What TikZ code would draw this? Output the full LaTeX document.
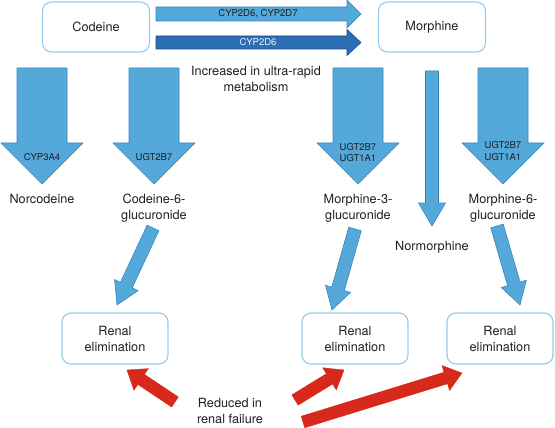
\documentclass[tikz,border=0pt]{standalone}
\usepackage{fontspec}
\setmainfont{TeX Gyre Heros}
\usetikzlibrary{calc}

\definecolor{flowblue}{HTML}{55A8DA}
\definecolor{flowedge}{HTML}{3A86BF}
\definecolor{fastblue}{HTML}{2C6EB5}
\definecolor{fastedge}{HTML}{1E4A85}
\definecolor{boxedge}{HTML}{93CBEA}
\definecolor{failred}{HTML}{D7281C}

\newcommand{\mainsize}{\fontsize{12.7}{16}\selectfont}
\newcommand{\enzsize}{\fontsize{9.5}{11.5}\selectfont}

% #2 tail, #3 tip, #4 half shaft, #5 half head, #6 head length
\newcommand{\blockarrow}[6][]{%
  \coordinate (bahead) at ($(#3)!#6!(#2)$);
  \filldraw[#1] ($(#2)!#4!90:(#3)$) -- ($(bahead)!#4!90:(#3)$) -- ($(bahead)!#5!90:(#3)$) -- (#3)
    -- ($(bahead)!#5!-90:(#3)$) -- ($(bahead)!#4!-90:(#3)$) -- ($(#2)!#4!-90:(#3)$) -- cycle;
}

\tikzset{
  flow/.style={fill=flowblue, draw=flowedge, line width=0.6pt},
  fastflow/.style={fill=fastblue, draw=fastedge, line width=0.6pt},
  failflow/.style={fill=failred, draw=failred, line width=0.4pt},
  drug/.style={draw=boxedge, line width=1.1pt, rounded corners=9pt, minimum width=107pt, minimum height=50pt, align=center},
  enz/.style={font=\enzsize, align=center, inner sep=0pt},
  metab/.style={anchor=north, align=center, inner sep=1pt}
}

\begin{document}
\begin{tikzpicture}[x=1pt, y=-1pt, every node/.style={font=\mainsize, text=black!88}]
	\useasboundingbox (0,0) rectangle (555,428);

	\node[drug] (codeine) at (96,27) {Codeine};
	\node[drug] (morphine) at (432,27) {Morphine};

	\coordinate (slowa) at (156,14); \coordinate (slowb) at (361,14);
	\coordinate (fasta) at (156,42.5); \coordinate (fastb) at (361,42.5);
	\blockarrow[flow]{slowa}{slowb}{7pt}{14pt}{14pt}
	\blockarrow[fastflow]{fasta}{fastb}{6.5pt}{13pt}{14pt}
	\node[enz] (cypslow) at (258,14) {CYP2D6, CYP2D7};
	\node[enz, text=white!85!flowblue] (cypfast) at (258,42.5) {CYP2D6};
	\node[align=center] (ultra) at (256,79) {Increased in ultra-rapid\\metabolism};

	\foreach \x/\ey/\enz/\name [count=\i] in {42/157/CYP3A4/Norcodeine, 154/157/UGT2B7/{Codeine-6-\\glucuronide}, 358/152.5/{UGT2B7\\UGT1A1}/{Morphine-3-\\glucuronide}, 503/151/{UGT2B7\\UGT1A1}/{Morphine-6-\\glucuronide}} {
		\coordinate (top\i) at (\x,68);
		\coordinate (tip\i) at (\x,184);
		\blockarrow[flow]{top\i}{tip\i}{25pt}{41pt}{41pt}
		\node[enz] (enz\i) at (\x,\ey) {\enz};
		\node[metab] (met\i) at (\x,193) {\name};
	}

	\coordinate (nortop) at (432,71); \coordinate (nortip) at (432,226);
	\blockarrow[flow]{nortop}{nortip}{6.5pt}{13.5pt}{23pt}
	\node (normorphine) at (432,247) {Normorphine};

	\foreach \x [count=\i] in {115,355,500}
		\node[drug, minimum width=106pt, minimum height=51pt] (renal\i) at (\x,338.5) {Renal\\elimination};

	\foreach \ax/\ay/\bx/\by [count=\i] in {153/228/117/305, 355/229/332/310, 497/226/520/305} {
		\coordinate (out\i) at (\ax,\ay); \coordinate (in\i) at (\bx,\by);
		\blockarrow[flow]{out\i}{in\i}{6.5pt}{13pt}{22pt}
	}

	\node[align=center] (reduced) at (230,411) {Reduced in\\renal failure};
	\foreach \ax/\ay/\bx/\by [count=\i] in {175/402/127/370, 295/400/344/370, 303/422/462/373} {
		\coordinate (fail\i) at (\ax,\ay); \coordinate (hit\i) at (\bx,\by);
		\blockarrow[failflow]{fail\i}{hit\i}{6pt}{13pt}{17pt}
	}
\end{tikzpicture}
\end{document}
